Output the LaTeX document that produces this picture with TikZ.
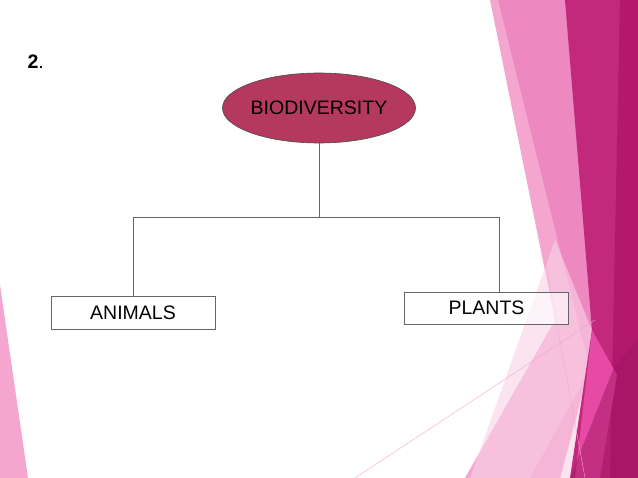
\documentclass[tikz,border=0pt]{standalone}
\usepackage{fontspec}
\setmainfont{Liberation Sans}
\usetikzlibrary{shapes.geometric}
\definecolor{lpink}{HTML}{F4A6CF}
\definecolor{mpink}{HTML}{EE88C0}
\definecolor{vpink}{HTML}{F9D3E7}
\definecolor{magent}{HTML}{C2297C}
\definecolor{dmag}{HTML}{B3186E}
\definecolor{hpink}{HTML}{E64AA4}
\definecolor{ellfill}{HTML}{B5385F}
\begin{document}
\begin{tikzpicture}[x=1pt,y=-1pt,
  box/.style={draw=black!60,line width=0.6pt,fill=white,fill opacity=0.6,text opacity=1,minimum width=164pt,inner sep=0pt,font=\fontsize{19.5}{21}\selectfont},
  conn/.style={draw=black!60,line width=0.7pt}]
\useasboundingbox (0,0) rectangle (638,478);
\fill[white] (0,0) rectangle (638,478);
% decorations
\fill[lpink] (490,0) -- (570,0) -- (595,350) -- (560,478) -- (465,478) -- (555,320) -- cycle;
\fill[mpink] (498,0) -- (570,0) -- (595,340) -- (560,478) -- (530,478) -- (590,370) -- cycle;
\fill[vpink,opacity=0.6] (555,240) -- (592,330) -- (575,478) -- (470,478) -- cycle;
\fill[magent] (565,0) -- (638,0) -- (638,478) -- (570,478) -- (592,330) -- cycle;
\fill[dmag] (620,0) -- (638,0) -- (638,478) -- (610,478) -- cycle;
\fill[hpink] (592,330) -- (617,375) -- (600,478) -- (575,478) -- cycle;
\fill[dmag!90!black,opacity=0.5] (615,365) -- (638,340) -- (638,478) -- (570,478) -- cycle;
\draw[lpink,line width=0.4pt] (355,478) -- (595,320);
\draw[lpink,line width=0.4pt] (498,0) -- (585,478);
\fill[lpink] (0,285) -- (28,478) -- (0,478) -- cycle;
% title
\node[anchor=west,font=\fontsize{19.5}{21}\selectfont] (num) at (24,62) {\textbf{2}.};
% diagram
\node[ellipse,draw=black!70,line width=0.6pt,fill=ellfill,minimum width=180pt,minimum height=70pt,inner sep=0pt,font=\fontsize{19.5}{21}\selectfont] (bio) at (319,108) {BIODIVERSITY};
\node[box,minimum height=33pt] (ani) at (133,312.5) {ANIMALS};
\node[box,minimum height=32pt] (pla) at (486.5,308) {PLANTS};
\coordinate (j) at (319,217);
\coordinate (l) at (133,217);
\coordinate (r) at (499,217);
\draw[conn] (bio.south) -- (j);
\draw[conn] (l) -- (r);
\draw[conn] (l) -- (l |- ani.north);
\draw[conn] (r) -- (r |- pla.north);
\end{tikzpicture}
\end{document}
